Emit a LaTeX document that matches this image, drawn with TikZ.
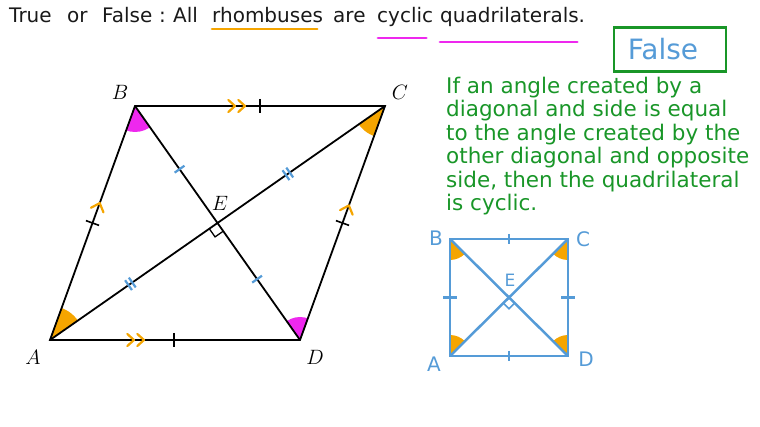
\documentclass[tikz,border=0pt]{standalone}
\usepackage{fontspec}
\setmainfont{DejaVu Sans}
\usetikzlibrary{calc}
\definecolor{ngreen}{RGB}{25,150,40}
\definecolor{nblue}{RGB}{85,155,215}
\definecolor{norange}{RGB}{245,165,0}
\definecolor{nmag}{RGB}{238,40,238}
\tikzset{
 titletext/.style={anchor=base west, inner sep=0pt, font=\fontsize{20}{24}\selectfont, text=black!90},
 edge/.style={line width=1.8pt, black},
 sqedge/.style={line width=2.5pt, nblue},
 lbl/.style={font=\fontsize{22}{26}\selectfont, inner sep=0pt},
 sqlbl/.style={font=\fontsize{20}{24}\selectfont, text=nblue, inner sep=0pt},
 blacktick/.style={line width=1.6pt, black},
 bluetick/.style={line width=2.2pt, nblue},
 chev/.style={line width=2.2pt, norange, line cap=round, line join=round},
 uline/.style={line width=2.8pt, line cap=round},
}
% single tick: style, from, to, position, half length
\newcommand\mytick[5]{%
  \coordinate (tmp) at ($(#2)!#4!(#3)$);
  \draw[#1] ($(tmp)!#5!90:(#3)$) -- ($(tmp)!#5!-90:(#3)$);}
% double tick
\newcommand\mydtick[5]{%
  \coordinate (tmpc) at ($(#2)!#4!(#3)$);
  \coordinate (tmp) at ($(tmpc)!2.3pt!(#3)$);
  \draw[#1] ($(tmp)!#5!90:(#3)$) -- ($(tmp)!#5!-90:(#3)$);
  \coordinate (tmp) at ($(tmpc)!-2.3pt!(#3)$);
  \draw[#1] ($(tmp)!#5!90:(#3)$) -- ($(tmp)!#5!-90:(#3)$);}
% chevron: from, to, position
\newcommand\mychev[3]{%
  \coordinate (tmp) at ($(#1)!#3!(#2)$);
  \draw[chev] ($(tmp)!10pt!138:(#2)$) -- (tmp) -- ($(tmp)!10pt!-138:(#2)$);}
\newcommand\mydchev[3]{%
  \coordinate (tmpc) at ($(#1)!#3!(#2)$);
  \coordinate (tmp) at ($(tmpc)!5pt!(#2)$);
  \draw[chev] ($(tmp)!9pt!138:(#2)$) -- (tmp) -- ($(tmp)!9pt!-138:(#2)$);
  \coordinate (tmp) at ($(tmpc)!-5pt!(#2)$);
  \draw[chev] ($(tmp)!9pt!138:(#2)$) -- (tmp) -- ($(tmp)!9pt!-138:(#2)$);}
% filled angle wedge: colour, vertex, ray1, ray2, radius
\newcommand\mywedge[5]{%
  \begin{scope}
  \clip (#2) -- (#3) -- (#4) -- cycle;
  \fill[#1] (#2) circle (#5);
  \end{scope}}
\begin{document}
\begin{tikzpicture}[x=1pt,y=-1pt]
\useasboundingbox (0,0) rectangle (760,427);
% title
\node[titletext] (t1) at (9,23) {True};
\node[titletext] (t2) at (67,23) {or};
\node[titletext] (t3) at (102,23) {False};
\node[titletext] (t4) at (159,23) {:};
\node[titletext] (t5) at (173,23) {All};
\node[titletext] (t6) at (212,23) {rhombuses};
\node[titletext] (t7) at (333,23) {are};
\node[titletext] (t8) at (377,23) {cyclic};
\node[titletext] (t9) at (440,23) {quadrilaterals.};
\draw[uline, norange] ([yshift=-6pt]t6.base west) -- ([yshift=-6pt,xshift=-6pt]t6.base east);
\draw[uline, nmag] ([yshift=-15pt,xshift=1pt]t8.base west) -- ([yshift=-15pt,xshift=-7pt]t8.base east);
\draw[uline, nmag] ([yshift=-19pt]t9.base west) -- ([yshift=-19pt,xshift=-8pt]t9.base east);
% answer box
\node[draw=ngreen, line width=2.4pt, minimum width=112pt, minimum height=44pt, inner sep=0pt] (ansbox) at (670,49.5) {};
\node[text=nblue, font=\fontsize{28}{30}\selectfont, inner sep=0pt] (ans) at (663,49) {False};
% explanation
\node[anchor=north west, align=left, text=ngreen, font=\fontsize{21.5}{23.4}\selectfont, inner sep=0pt] (expl) at (446,77)
 {If an angle created by a\\ diagonal and side is equal\\ to the angle created by the\\ other diagonal and opposite\\ side, then the quadrilateral\\ is cyclic.};
% rhombus
\coordinate (A) at (50,340);
\coordinate (B) at (135,106);
\coordinate (C) at (385,106);
\coordinate (D) at (300,340);
\coordinate (E) at ($(A)!0.5!(C)$);
\mywedge{nmag}{B}{A}{D}{26pt}
\mywedge{nmag}{D}{B}{C}{23pt}
\mywedge{norange}{A}{B}{C}{34pt}
\mywedge{norange}{C}{A}{D}{32pt}
\draw[edge] (A) -- (B) -- (C) -- (D) -- cycle;
\draw[edge] (A) -- (C);
\draw[edge] (B) -- (D);
\coordinate (ea) at ($(E)!10pt!(A)$);
\coordinate (ed) at ($(E)!10pt!(D)$);
\draw[line width=1.3pt] (ea) -- ($(ea)+(ed)-(E)$) -- (ed);
\mytick{blacktick}{A}{B}{0.5}{7pt}
\mytick{blacktick}{D}{C}{0.5}{7pt}
\mytick{blacktick}{B}{C}{0.5}{7pt}
\mytick{blacktick}{A}{D}{0.496}{7pt}
\mychev{A}{B}{0.585}
\mychev{D}{C}{0.575}
\mydchev{B}{C}{0.42}
\mydchev{A}{D}{0.356}
\mytick{bluetick}{B}{D}{0.27}{6pt}
\mytick{bluetick}{B}{D}{0.74}{6pt}
\mydtick{bluetick}{A}{C}{0.24}{6pt}
\mydtick{bluetick}{A}{C}{0.71}{6pt}
\node[lbl] (lA) at (33,357) {$A$};
\node[lbl] (lB) at (120,92) {$B$};
\node[lbl] (lC) at (400,92) {$C$};
\node[lbl] (lD) at (315,357) {$D$};
\node[lbl] (lE) at (220,203) {$E$};
% square
\coordinate (SA) at (450,356);
\coordinate (SB) at (450,239);
\coordinate (SC) at (568,239);
\coordinate (SD) at (568,356);
\coordinate (SE) at ($(SA)!0.5!(SC)$);
\mywedge{norange}{SB}{SA}{SD}{21pt}
\mywedge{norange}{SC}{SD}{SA}{21pt}
\mywedge{norange}{SA}{SB}{SC}{21pt}
\mywedge{norange}{SD}{SC}{SB}{21pt}
\draw[sqedge] (SA) -- (SB) -- (SC) -- (SD) -- cycle;
\draw[sqedge] (SA) -- (SC);
\draw[sqedge] (SB) -- (SD);
\coordinate (sea) at ($(SE)!8pt!(SA)$);
\coordinate (sed) at ($(SE)!8pt!(SD)$);
\draw[nblue, line width=1.6pt] (sea) -- ($(sea)+(sed)-(SE)$) -- (sed);
\mytick{bluetick}{SB}{SC}{0.5}{5pt}
\mytick{bluetick}{SA}{SD}{0.5}{5pt}
\mytick{bluetick}{SA}{SB}{0.5}{7pt}
\mytick{bluetick}{SD}{SC}{0.5}{7pt}
\node[sqlbl] (sA) at (434,364) {A};
\node[sqlbl] (sB) at (436,238) {B};
\node[sqlbl] (sC) at (583,239) {C};
\node[sqlbl] (sD) at (586,359) {D};
\node[sqlbl, font=\fontsize{17}{19}\selectfont] (sEl) at (510,280) {E};
\end{tikzpicture}
\end{document}
